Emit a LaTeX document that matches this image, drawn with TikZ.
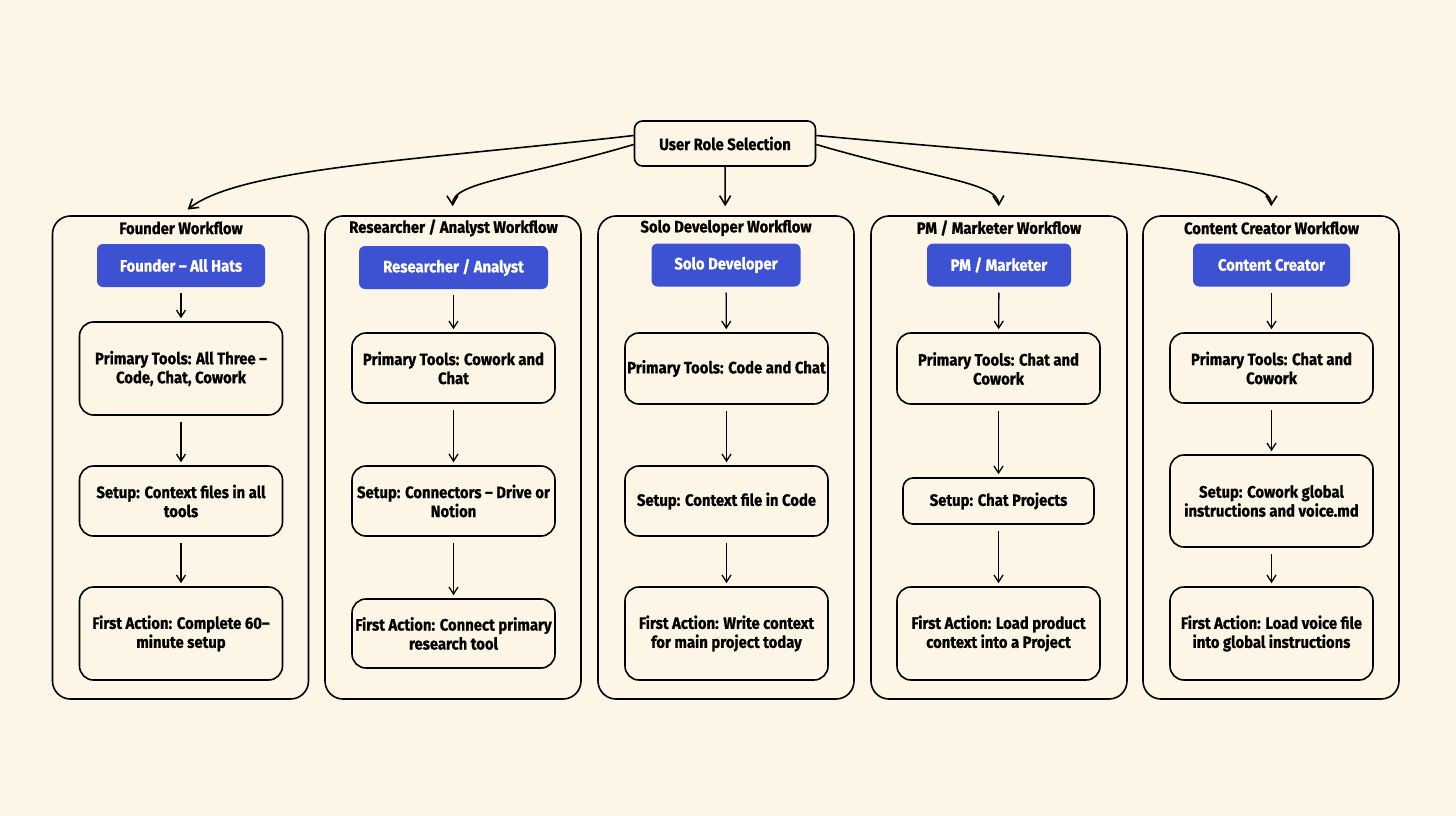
\documentclass[tikz,border=0pt]{standalone}
\usepackage{fontspec}
\setmainfont{Fira Sans}[FakeStretch=0.9,BoldFeatures={FakeBold=0.8}]
\usetikzlibrary{arrows.meta,positioning}
\definecolor{paper}{RGB}{253,246,230}
\definecolor{roleblue}{RGB}{61,81,211}
\tikzset{
  panel/.style   = {draw,line width=1.6pt,rounded corners=18pt,
                    minimum width=256pt,minimum height=483pt},
  ptitle/.style  = {font=\bfseries\fontsize{16.5}{18}\selectfont},
  role/.style    = {fill=roleblue,rounded corners=6pt,text=white,
                    minimum height=43pt,font=\bfseries\fontsize{16.5}{18}\selectfont},
  stepbox/.style = {draw,line width=1.6pt,rounded corners=14pt,fill=paper,
                    minimum width=203pt,align=center,inner sep=1pt,
                    font=\bfseries\fontsize{16.5}{19}\selectfont},
  flow/.style    = {-{Straight Barb[length=7pt,width=9pt]},line width=1.3pt,
                    shorten <=6pt,shorten >=3pt},
  pick/.style    = {-{Straight Barb[length=9pt,width=11pt]},line width=1.6pt,
                    shorten >=9pt},
}

\begin{document}
\begin{tikzpicture}[x=1pt,y=-1pt]
  \fill[paper] (0,0) rectangle (1456,816);
  \useasboundingbox (0,0) rectangle (1456,816);

  % top
  \node[stepbox,rounded corners=8pt,minimum width=181pt,minimum height=45pt] (roles)
    at (725,143.5) {User Role Selection};

  % panels
  \node[panel] (founderwf) at (180.5,457.5) {};
  \node[panel] (researchwf) at (453,457.5) {};
  \node[panel] (devwf) at (726,457.5) {};
  \node[panel] (pmwf) at (999,457.5) {};
  \node[panel] (creatorwf) at (1271,457.5) {};

  \node[ptitle] (founderttl) at (181,228) {Founder Workflow};
  \node[ptitle] (researchttl) at (453.5,228) {Researcher / Analyst Workflow};
  \node[ptitle] (devttl) at (726,228) {Solo Developer Workflow};
  \node[ptitle] (pmttl) at (999,228) {PM / Marketer Workflow};
  \node[ptitle] (creatorttl) at (1271.5,228) {Content Creator Workflow};

  % roles
  \node[role,minimum width=168pt] (founder) at (181,265.5) {Founder – All Hats};
  \node[role,minimum width=189pt] (research) at (453.5,267.5) {Researcher / Analyst};
  \node[role,minimum width=149pt] (dev) at (726,265) {Solo Developer};
  \node[role,minimum width=144pt] (pm) at (999,265) {PM / Marketer};
  \node[role,minimum width=157pt] (creator) at (1271.5,265) {Content Creator};

  % founder column
  \node[stepbox,minimum height=93pt] (founder1) at (181,368.5)
    {Primary Tools: All Three –\\Code, Chat, Cowork};
  \node[stepbox,minimum height=70pt] (founder2) at (181,501)
    {Setup: Context files in all\\tools};
  \node[stepbox,minimum height=93pt] (founder3) at (181,633.5)
    {First Action: Complete 60–\\minute setup};

  % researcher column
  \node[stepbox,minimum height=70pt] (research1) at (453.5,368)
    {Primary Tools: Cowork and\\Chat};
  \node[stepbox,minimum height=70pt] (research2) at (453.5,501)
    {Setup: Connectors – Drive or\\Notion};
  \node[stepbox,minimum height=69pt] (research3) at (453.5,633.5)
    {First Action: Connect primary\\research tool};

  % developer column
  \node[stepbox,minimum height=71pt] (dev1) at (726.5,368.5)
    {Primary Tools: Code and Chat};
  \node[stepbox,minimum height=70pt] (dev2) at (726.5,501)
    {Setup: Context file in Code};
  \node[stepbox,minimum height=93pt] (dev3) at (726.5,633.5)
    {First Action: Write context\\for main project today};

  % pm column
  \node[stepbox,minimum height=71pt] (pm1) at (998.5,368.5)
    {Primary Tools: Chat and\\Cowork};
  \node[stepbox,minimum width=191pt,minimum height=46pt,rounded corners=10pt] (pm2)
    at (998.5,501) {Setup: Chat Projects};
  \node[stepbox,minimum height=93pt] (pm3) at (998.5,633.5)
    {First Action: Load product\\context into a Project};

  % creator column
  \node[stepbox,minimum height=70pt] (creator1) at (1271.5,368)
    {Primary Tools: Chat and\\Cowork};
  \node[stepbox,minimum height=92pt] (creator2) at (1271.5,501)
    {Setup: Cowork global\\instructions and voice.md};
  \node[stepbox,minimum height=93pt] (creator3) at (1271.5,633.5)
    {First Action: Load voice file\\into global instructions};

  % arrows inside panels
  \foreach \c in {founder,research,dev,pm,creator}{
    \draw[flow] (\c) -- (\c1);
    \draw[flow] (\c1) -- (\c2);
    \draw[flow] (\c2) -- (\c3);
  }

  % from the selection
  \draw[pick] (roles.west) ++(0,8pt) coordinate (r1)
    (r1) .. controls (420,160) and (240,168) .. (founderwf.north);
  \draw[pick] (roles.west) ++(0,-1pt) coordinate (r2)
    (r2) .. controls (520,178) and (452,182) .. (researchwf.north);
  \draw[pick] (roles) -- (devwf);
  \draw[pick] (roles.east) ++(0,-1pt) coordinate (r4)
    (r4) .. controls (930,178) and (998,182) .. (pmwf.north);
  \draw[pick] (roles.east) ++(0,8pt) coordinate (r5)
    (r5) .. controls (1080,160) and (1272,168) .. (creatorwf.north);
\end{tikzpicture}
\end{document}
